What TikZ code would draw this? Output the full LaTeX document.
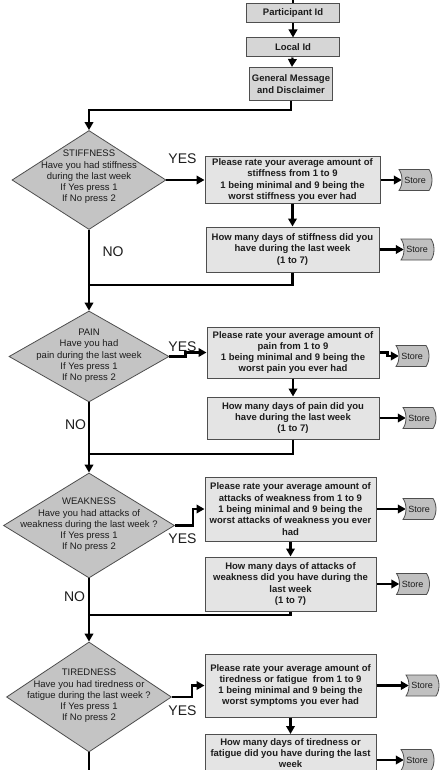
\documentclass[tikz,border=0pt]{standalone}
\usepackage{fontspec}
\setmainfont{Liberation Sans}
\usepackage{tikz}
\usetikzlibrary{arrows.meta,positioning,calc,shapes.geometric}
\definecolor{boxfill}{RGB}{228,228,228}
\definecolor{topfill}{RGB}{214,214,214}
\definecolor{diafill}{RGB}{196,196,196}
\definecolor{storefill}{RGB}{192,192,192}
\definecolor{edge}{RGB}{78,78,78}
\definecolor{ink}{RGB}{28,28,28}
\newcommand{\qfont}{\fontsize{9.5}{11.3}\selectfont}
\tikzset{
  box/.style={draw=edge, fill=boxfill, line width=1pt, inner sep=0pt,
    font=\bfseries\qfont, text=ink, align=center},
  topbox/.style={box, fill=topfill},
  dia/.style={diamond, draw=edge, fill=diafill, line width=0.8pt, inner sep=0pt},
  diatext/.style={font=\qfont, text=ink, align=center},
  answer/.style={font=\fontsize{14}{16}\selectfont, text=ink},
  store/.style={font=\fontsize{9}{10}\selectfont, text=ink, minimum width=26pt,
    minimum height=20pt, inner sep=0pt},
  conn/.style={line width=2.2pt},
  flow/.style={conn, -{Triangle[length=8pt,width=8.5pt]}}
}
% store symbol: shape first, then the named node on top
\newcommand{\storeat}[3]{%
  \filldraw[fill=storefill, draw=edge, line width=0.8pt]
    (#2-16,#3-10.5) .. controls (#2-12,#3-5) and (#2-12,#3+5) .. (#2-16,#3+10.5)
    -- (#2+14,#3+10.5) .. controls (#2+18,#3+5) and (#2+18,#3-5) .. (#2+14,#3-10.5) -- cycle;
  \node[store] (#1) at (#2,#3) {Store};}

\begin{document}
\begin{tikzpicture}[x=1pt, y=-1pt]
  \useasboundingbox (0,0) rectangle (444,770);
  \clip (0,0) rectangle (444,770);

  % start of the questionnaire
  \node[topbox, minimum width=93pt, minimum height=19pt] (pid) at (293,13) {Participant Id};
  \node[topbox, minimum width=93pt, minimum height=19pt] (lid) at (293,47.5) {Local Id};
  \node[topbox, minimum width=83pt, minimum height=33pt] (gen) at (291,84) {General Message\\and Disclaimer};
  \coordinate (top) at (293,-2);
  \coordinate (j0) at (89,110);
  \draw[conn] (top) -- (pid.north);
  \draw[flow] (pid) -- (lid);
  \draw[flow] (lid) -- (gen);

  % stiffness
  \node[dia, minimum width=154pt, minimum height=99pt] (d1) at (89,180) {};
  \node[diatext] (d1t) at (89,177) {STIFFNESS\\Have you had stiffness\\during the last week\\If Yes press 1\\If No press 2};
  \node[box, minimum width=175pt, minimum height=46pt] (r1) at (292.5,180)
    {Please rate your average amount of\\stiffness from 1 to 9\\1 being minimal and 9 being the\\worst stiffness you ever had};
  \node[box, minimum width=173pt, minimum height=45pt] (n1) at (292.5,249.5)
    {How many days of stiffness did you\\have during the last week\\(1 to 7)};
  \storeat{s1}{415}{180}
  \storeat{s2}{417}{249.5}
  \node[answer] (y1) at (182.5,158.5) {YES};
  \node[answer] (no1) at (113,252) {NO};
  \coordinate (j1) at (89,285);
  \draw[flow] (gen.south) |- (j0) -- (d1.north);
  \draw[flow] (d1.east) -- (r1.west);
  \draw[flow] (r1.east) -- (s1.west);
  \draw[flow] (r1) -- (n1);
  \draw[flow] (n1.east) -- (s2.west);
  \draw[conn] (n1.south) |- (j1);

  % pain
  \node[dia, minimum width=160pt, minimum height=91pt] (d2) at (89,356.5) {};
  \node[diatext] (d2t) at (89,356) {PAIN\\Have you had\\pain during the last week\\If Yes press 1\\If No press 2};
  \node[box, minimum width=172pt, minimum height=51pt] (r2) at (293,352.5)
    {Please rate your average amount of\\pain from 1 to 9\\1 being minimal and 9 being the\\worst pain you ever had};
  \node[box, minimum width=172pt, minimum height=42pt] (n2) at (293,418)
    {How many days of pain did you\\have during the last week\\(1 to 7)};
  \storeat{s3}{412}{356}
  \storeat{s4}{419}{418}
  \node[answer] (y2) at (182.5,347) {YES};
  \node[answer] (no2) at (75.5,425) {NO};
  \coordinate (j2) at (89,454);
  \draw[flow] (d1.south) -- (d2.north);
  \draw[flow] (d2.east) -- ++(16,0) |- (r2.west);
  \draw[flow] (r2.east) -- ++(8,0) |- (s3.west);
  \draw[flow] (r2) -- (n2);
  \draw[flow] (n2.east) -- (s4.west);
  \draw[conn] (n2.south) |- (j2);

  % weakness
  \node[dia, minimum width=171pt, minimum height=105pt] (d3) at (89,525.5) {};
  \node[diatext] (d3t) at (89,525) {WEAKNESS\\Have you had attacks of\\weakness during the last week ?\\If Yes press 1\\If No press 2};
  \node[box, minimum width=171pt, minimum height=64pt] (r3) at (290.5,509)
    {Please rate your average amount of\\attacks of weakness from 1 to 9\\1 being minimal and 9 being the\\worst attacks of weakness you ever\\had};
  \node[box, minimum width=171pt, minimum height=54pt] (n3) at (290.5,584)
    {How many days of attacks of\\weakness did you have during the\\last week\\(1 to 7)};
  \storeat{s5}{419}{509}
  \storeat{s6}{412.5}{584}
  \node[answer] (y3) at (182.5,539) {YES};
  \node[answer] (no3) at (74.5,597) {NO};
  \coordinate (j3) at (89,615);
  \draw[flow] (d2.south) -- (d3.north);
  \draw[flow] (d3.east) -- ++(18,0) |- (r3.west);
  \draw[flow] (r3.east) -- (s5.west);
  \draw[flow] (r3) -- (n3);
  \draw[flow] (n3.east) -- (s6.west);
  \draw[conn] (n3.south) |- (j3);

  % tiredness
  \node[dia, minimum width=165pt, minimum height=110pt] (d4) at (89,697) {};
  \node[diatext] (d4t) at (89,696) {TIREDNESS\\Have you had tiredness or\\fatigue during the last week ?\\If Yes press 1\\If No press 2};
  \node[box, minimum width=171pt, minimum height=63pt] (r4) at (290.5,685.5)
    {Please rate your average amount of\\tiredness or fatigue\ \ from 1 to 9\\1 being minimal and 9 being the\\worst symptoms you ever had};
  \node[box, minimum width=171pt, inner ysep=4pt, minimum height=48pt, anchor=north] (n4) at (290.5,734)
    {How many days of tiredness or\\fatigue did you have during the last\\week\\\strut};
  \storeat{s7}{422}{685.5}
  \storeat{s8}{417}{760}
  \node[answer] (y4) at (182.5,711) {YES};
  \coordinate (end) at (89,790);
  \draw[flow] (d3.south) -- (d4.north);
  \draw[flow] (d4.east) -- ++(20,0) |- (r4.west);
  \draw[flow] (r4.east) -- (s7.west);
  \draw[flow] (r4) -- (n4);
  \draw[flow] (n4.east |- s8) -- (s8.west);
  \draw[conn] (d4.south) -- (end);
\end{tikzpicture}
\end{document}
